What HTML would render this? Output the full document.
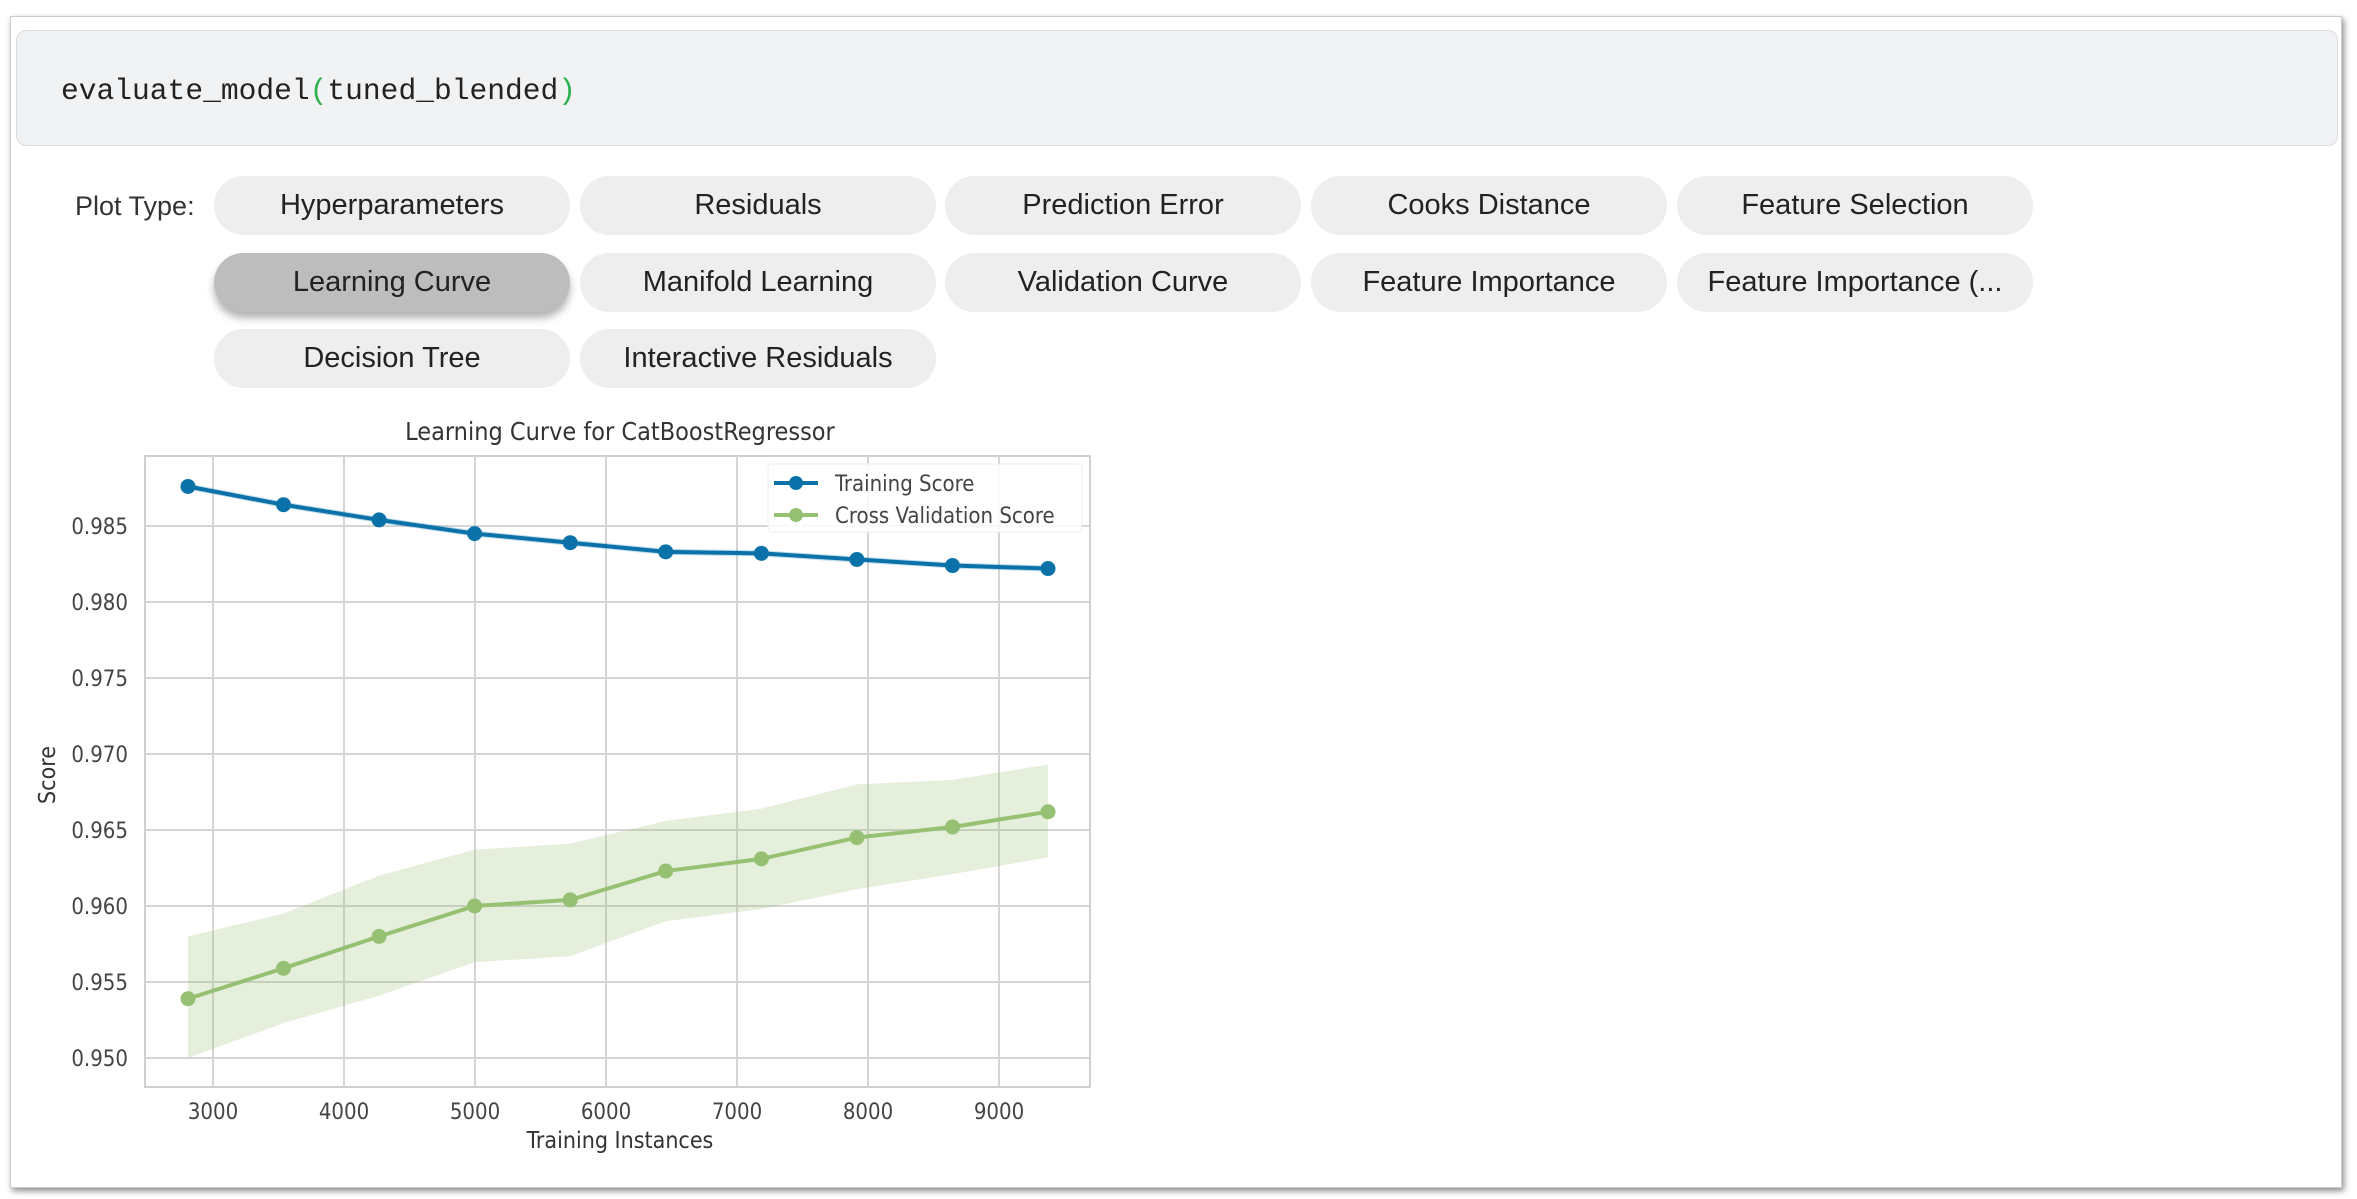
<!DOCTYPE html>
<html><head><meta charset="utf-8">
<style>
body{margin:0;width:2357px;height:1199px;background:#fff;position:relative;overflow:hidden;font-family:"Liberation Sans",sans-serif;}
#frame{position:absolute;left:10px;top:16px;width:2330px;height:1170px;background:#fff;box-shadow:2px 3px 6px rgba(0,0,0,0.45);border:1px solid #ccc;}
#code{position:absolute;left:16px;top:30px;width:2322px;height:116px;background:#f1f2f3;border:1px solid #dcdde0;border-radius:10px;box-sizing:border-box;}
#code span.t{position:absolute;left:44px;top:43px;font-family:"Liberation Mono",monospace;font-size:29.6px;color:#222;}
.p{color:#2bb24c}
.lbl{position:absolute;left:75px;top:191px;font-size:27px;color:#333;}
.btn{position:absolute;width:356px;height:59px;border-radius:30px;background:#eeeeee;font-size:29px;color:#222;text-align:center;line-height:59px;white-space:nowrap;}
.btn.sel{background:#bdbdbd;box-shadow:0 6px 8px rgba(0,0,0,0.3);}
svg{position:absolute;left:0;top:0;}
</style></head><body>
<div id="frame"></div>
<div id="code"><span class="t">evaluate_model<span class="p">(</span>tuned_blended<span class="p">)</span></span></div>
<div class="lbl">Plot Type:</div>
<div class="btn" style="left:214px;top:176px">Hyperparameters</div>
<div class="btn" style="left:580px;top:176px">Residuals</div>
<div class="btn" style="left:945px;top:176px">Prediction Error</div>
<div class="btn" style="left:1311px;top:176px">Cooks Distance</div>
<div class="btn" style="left:1677px;top:176px">Feature Selection</div>
<div class="btn sel" style="left:214px;top:253px">Learning Curve</div>
<div class="btn" style="left:580px;top:253px">Manifold Learning</div>
<div class="btn" style="left:945px;top:253px">Validation Curve</div>
<div class="btn" style="left:1311px;top:253px">Feature Importance</div>
<div class="btn" style="left:1677px;top:253px">Feature Importance (...</div>
<div class="btn" style="left:214px;top:329px">Decision Tree</div>
<div class="btn" style="left:580px;top:329px">Interactive Residuals</div>
<svg id="chart" width="2357" height="1199"></svg>
<script>
const trainSizes=[2809,3538,4268,4997,5727,6456,7186,7915,8645,9374];
const trainScores=[0.9876,0.9864,0.9854,0.9845,0.9839,0.9833,0.9832,0.9828,0.9824,0.9822];
const trainStd=[0.0002,0.0002,0.0002,0.0002,0.0002,0.0002,0.0002,0.0002,0.0002,0.0002];
const cvScores=[0.9539,0.9559,0.9580,0.9600,0.9604,0.9623,0.9631,0.9645,0.9652,0.9662];
const cvUpper=[0.9580,0.9595,0.9620,0.9637,0.9641,0.9656,0.9664,0.9680,0.9683,0.9693];
const cvLower=[0.9500,0.9523,0.9541,0.9563,0.9567,0.9590,0.9598,0.9611,0.9621,0.9632];
const xTicks=[3000,4000,5000,6000,7000,8000,9000];
const yTicks=[0.950,0.955,0.960,0.965,0.970,0.975,0.980,0.985];
const yTickLabels=["0.950","0.955","0.960","0.965","0.970","0.975","0.980","0.985"];

const L=145,R=1090,T=456,B=1087;
const X=v=>213+(v-3000)*0.131;
const Y=v=>1058-(v-0.950)*15200;
const svg=document.getElementById('chart');
const NS='http://www.w3.org/2000/svg';
const FF='DejaVu Sans Condensed, DejaVu Sans, sans-serif';
function mk(tag,attrs,parent){const e=document.createElementNS(NS,tag);for(const k in attrs)e.setAttribute(k,attrs[k]);(parent||svg).appendChild(e);return e;}
let e;
e=mk('rect',{x:L,y:T,width:R-L,height:B-T,fill:'#fff',stroke:'#d0d0d0','stroke-width':2});


xTicks.forEach(t=>{
 e=mk('line',{x1:X(t),x2:X(t),y1:T,y2:B,stroke:'#d5d5d5','stroke-width':2});
 
 
 e=mk('text',{x:X(t),y:1119,'text-anchor':'middle','font-size':22,fill:'#444','font-family':FF});
 e.textContent=t;
 
 
});
yTicks.forEach((t,i)=>{
 e=mk('line',{x1:L,x2:R,y1:Y(t),y2:Y(t),stroke:'#d5d5d5','stroke-width':2});
 
 
 e=mk('text',{x:128,y:Y(t)+8,'text-anchor':'end','font-size':22,fill:'#444','font-family':FF});
 e.textContent=yTickLabels[i];
 
 
});
function band(up,lo,fill,name){
 let d='M'+trainSizes.map((s,i)=>X(s)+','+Y(up[i])).join('L');
 d+='L'+trainSizes.map((s,i)=>X(s)+','+Y(lo[i])).reverse().join('L')+'Z';
 e=mk('path',{d:d,fill:fill});
 
 
}
band(trainScores.map((v,i)=>v+trainStd[i]),trainScores.map((v,i)=>v-trainStd[i]),'rgba(0,114,178,0.25)','training-score-band');
band(cvUpper,cvLower,'rgba(150,193,115,0.25)','cv-score-band');
function series(vals,col,name){
 e=mk('polyline',{points:trainSizes.map((s,i)=>X(s)+','+Y(vals[i])).join(' '),fill:'none',stroke:col,'stroke-width':4});
 
 
 trainSizes.forEach((s,i)=>{
  e=mk('circle',{cx:X(s),cy:Y(vals[i]),r:7.5,fill:col});
  
  
 });
}
const cT='#0a72a8',cC='#96c173';
series(trainScores,cT,'training-score');
series(cvScores,cC,'cv-score');
e=mk('rect',{x:768,y:464,width:314,height:68,fill:'rgba(255,255,255,0.85)',stroke:'#eee',rx:4});


[[cT,'Training Score',483],[cC,'Cross Validation Score',515]].forEach(([c,t,y])=>{
 e=mk('line',{x1:774,x2:818,y1:y,y2:y,stroke:c,'stroke-width':4});
 
 
 e=mk('circle',{cx:796,cy:y,r:7,fill:c});
 
 
 e=mk('text',{x:835,y:y+8,'font-size':22,fill:'#444','font-family':FF});
 e.textContent=t;
 
 
});
e=mk('text',{x:620,y:440,'text-anchor':'middle','font-size':25,fill:'#333','font-family':FF});
e.textContent='Learning Curve for CatBoostRegressor';


e=mk('text',{x:620,y:1148,'text-anchor':'middle','font-size':23,fill:'#333','font-family':FF});
e.textContent='Training Instances';


e=mk('text',{x:55,y:775,'text-anchor':'middle','font-size':23,fill:'#333','font-family':FF,transform:'rotate(-90 55 775)'});
e.textContent='Score';


</script>
</body></html>
